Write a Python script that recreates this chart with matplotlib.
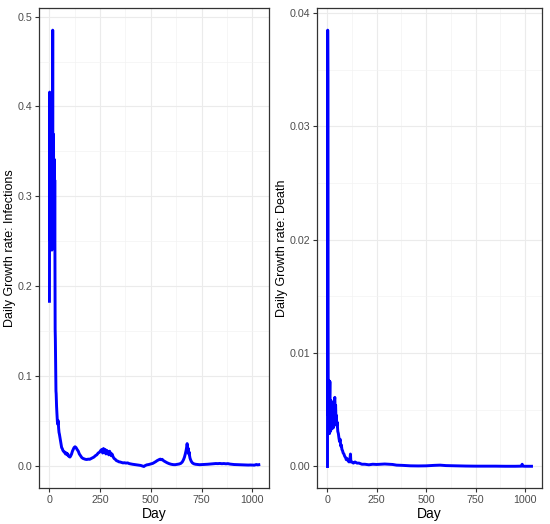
import matplotlib
matplotlib.use("Agg")
import matplotlib.pyplot as plt
from matplotlib.ticker import MultipleLocator, FormatStrFormatter

plt.rcParams['font.family'] = ['Liberation Sans', 'DejaVu Sans']

# daily growth rate of infections (day, value)
inf_days = [1, 2, 3, 4, 5, 6, 7, 8, 9, 10, 11, 12, 13, 14, 15, 16, 17, 18, 19, 20,
            21, 22, 23, 24, 25, 26, 27, 28, 29, 30, 31, 32, 33, 34, 35, 36, 37, 38, 39, 40,
            42, 44, 46, 48, 50, 53, 56, 58, 61, 64, 67, 70, 74, 77, 80, 84, 88, 91, 94, 98,
            102, 106, 110, 114, 118, 122, 127, 132, 137, 143, 148, 154, 160, 166, 172, 178,
            185, 192, 199, 206, 213, 220, 227, 234, 241, 248, 254, 259, 263, 267, 271, 275,
            279, 283, 288, 293, 297, 301, 305, 309, 314, 319, 325, 331, 337, 343, 349, 356,
            363, 370, 378, 386, 394, 402, 410, 420, 430, 440, 450, 460, 466, 472, 480, 490,
            500, 510, 518, 525, 531, 537, 542, 547, 551, 556, 561, 566, 572, 580, 590, 600,
            610, 620, 630, 640, 648, 655, 661, 666, 670, 674, 677, 679, 681, 683, 685, 687,
            689, 691, 693, 696, 700, 705, 712, 720, 730, 740, 750, 760, 770, 780, 790, 800,
            810, 820, 830, 840, 850, 860, 870, 880, 890, 900, 910, 920, 930, 940, 950, 960,
            970, 980, 990, 1000, 1010, 1020, 1026, 1032]
inf_rate = [0.183, 0.416, 0.262, 0.358, 0.251, 0.341, 0.287, 0.366, 0.243, 0.330,
            0.268, 0.352, 0.240, 0.361, 0.296, 0.338, 0.485, 0.258, 0.347, 0.272,
            0.369, 0.250, 0.322, 0.276, 0.341, 0.247, 0.318, 0.239, 0.152, 0.141,
            0.118, 0.096, 0.083, 0.080, 0.071, 0.066, 0.060, 0.057, 0.053, 0.049,
            0.046, 0.050, 0.042, 0.037, 0.035, 0.031, 0.027, 0.024, 0.020, 0.019,
            0.017, 0.016, 0.015, 0.015, 0.013, 0.014, 0.012, 0.013, 0.011, 0.010,
            0.0095, 0.011, 0.013, 0.016, 0.018, 0.020, 0.021, 0.020, 0.018, 0.016,
            0.013, 0.011, 0.009, 0.008, 0.0075, 0.007, 0.0068, 0.0072, 0.0070, 0.0078,
            0.0085, 0.0095, 0.011, 0.012, 0.014, 0.015, 0.017, 0.018, 0.014, 0.019,
            0.015, 0.018, 0.013, 0.017, 0.015, 0.012, 0.016, 0.014, 0.011, 0.013,
            0.010, 0.008, 0.007, 0.0055, 0.005, 0.0042, 0.004, 0.0035, 0.003, 0.0032,
            0.0028, 0.003, 0.0022, 0.0018, 0.0015, 0.0012, 0.001, 0.0006, 0.0002, -0.0005,
            -0.001, 0.0, 0.0008, 0.0012, 0.0018, 0.0025, 0.0035, 0.0045, 0.0055, 0.0062,
            0.0068, 0.0072, 0.0065, 0.0070, 0.0058, 0.0050, 0.0042, 0.0032, 0.0022, 0.0015,
            0.0011, 0.0010, 0.0014, 0.0018, 0.0025, 0.0040, 0.0065, 0.0095, 0.013, 0.017,
            0.021, 0.0245, 0.020, 0.016, 0.019, 0.013, 0.015, 0.011, 0.0085, 0.0065,
            0.0045, 0.003, 0.002, 0.0015, 0.0012, 0.0010, 0.0011, 0.0012, 0.0014, 0.0015,
            0.0017, 0.0019, 0.0021, 0.0023, 0.0022, 0.0024, 0.0021, 0.0023, 0.0020, 0.0022,
            0.0017, 0.0014, 0.0012, 0.0011, 0.0009, 0.0008, 0.0007, 0.0007, 0.0006, 0.0006,
            0.0007, 0.0006, 0.0005, 0.0012, 0.0008, 0.0010]

# daily growth rate of deaths
death_days = [1, 2, 3, 4, 5, 6, 7, 8, 9, 10, 11, 12, 13, 14, 15, 16, 17, 18, 19, 20,
              22, 24, 26, 28, 30, 32, 34, 36, 38, 40, 42, 44, 46, 48, 50, 53, 56, 59, 62, 65,
              68, 71, 74, 77, 80, 84, 88, 92, 96, 100, 105, 110, 114, 117, 119, 125, 132, 140,
              150, 160, 175, 190, 210, 230, 250, 270, 290, 310, 330, 350, 380, 420, 460, 500,
              540, 570, 600, 650, 700, 750, 800, 850, 900, 950, 980, 985, 988, 1000, 1032]
death_rate = [0.0, 0.0385, 0.0340, 0.0132, 0.0045, 0.0068, 0.0032, 0.0076, 0.0041, 0.0058,
              0.0029, 0.0062, 0.0075, 0.0038, 0.0055, 0.0031, 0.0049, 0.0036, 0.0058, 0.0042,
              0.0033, 0.0051, 0.0037, 0.0047, 0.0034, 0.0052, 0.0044, 0.0058, 0.0061, 0.0049,
              0.0054, 0.0041, 0.0045, 0.0036, 0.0039, 0.0031, 0.0029, 0.0025, 0.0022, 0.0024,
              0.0018, 0.0019, 0.0015, 0.0014, 0.0012, 0.0011, 0.0009, 0.0008, 0.0006, 0.0007,
              0.0005, 0.0004, 0.0006, 0.0011, 0.0004, 0.0004, 0.0003, 0.0004, 0.0003, 0.0003,
              0.0002, 0.0002, 0.00015, 0.0002, 0.00018, 0.0002, 0.00022, 0.0002, 0.00018, 0.00012,
              0.0001, 0.00006, 0.00005, 0.00006, 0.0001, 0.00012, 0.00008, 0.00006, 0.00004, 0.00003,
              0.00003, 0.00003, 0.00002, 0.00002, 0.00003, 0.0002, 0.00003, 0.00002, 0.00002]


def style_axes(ax, major_y, fmt):
    ax.set_facecolor('white')
    for s in ax.spines.values():
        s.set_color('#333333')
        s.set_linewidth(0.9)
    ax.xaxis.set_major_locator(MultipleLocator(250))
    ax.xaxis.set_minor_locator(MultipleLocator(125))
    ax.yaxis.set_major_locator(MultipleLocator(major_y))
    ax.yaxis.set_minor_locator(MultipleLocator(major_y / 2))
    ax.yaxis.set_major_formatter(FormatStrFormatter(fmt))
    ax.grid(which='major', color='#EBEBEB', linewidth=0.8)
    ax.grid(which='minor', color='#F2F2F2', linewidth=0.45)
    ax.set_axisbelow(True)
    ax.tick_params(which='major', length=3, width=0.8, color='#333333',
                   labelsize=7.7, labelcolor='#4D4D4D', pad=2)
    ax.tick_params(which='minor', length=0)


fig = plt.figure(figsize=(5.5, 5.24), dpi=100)

ax1 = fig.add_axes([0.0709, 0.0681, 0.4187, 0.916])
ax1.plot(inf_days, inf_rate, color='blue', linewidth=2.1)
lo, hi = min(inf_rate), max(inf_rate)
ax1.set_ylim(lo - 0.05 * (hi - lo), hi + 0.05 * (hi - lo))
ax1.set_xlim(1 - 0.05 * 1031, 1032 + 0.05 * 1031)
style_axes(ax1, 0.1, '%.1f')
ax1.set_xlabel('Day', fontsize=10, labelpad=1)
ax1.set_ylabel('Daily Growth rate: Infections', fontsize=9, labelpad=1)

ax2 = fig.add_axes([0.5769, 0.0681, 0.408, 0.916])
ax2.plot(death_days, death_rate, color='blue', linewidth=2.1)
lo, hi = min(death_rate), max(death_rate)
ax2.set_ylim(lo - 0.05 * (hi - lo), hi + 0.05 * (hi - lo))
ax2.set_xlim(1 - 0.05 * 1031, 1032 + 0.05 * 1031)
style_axes(ax2, 0.01, '%.2f')
ax2.set_xlabel('Day', fontsize=10, labelpad=1)
ax2.set_ylabel('Daily Growth rate: Death', fontsize=9, labelpad=1)

fig.savefig('out.png', dpi=100, facecolor='white')
